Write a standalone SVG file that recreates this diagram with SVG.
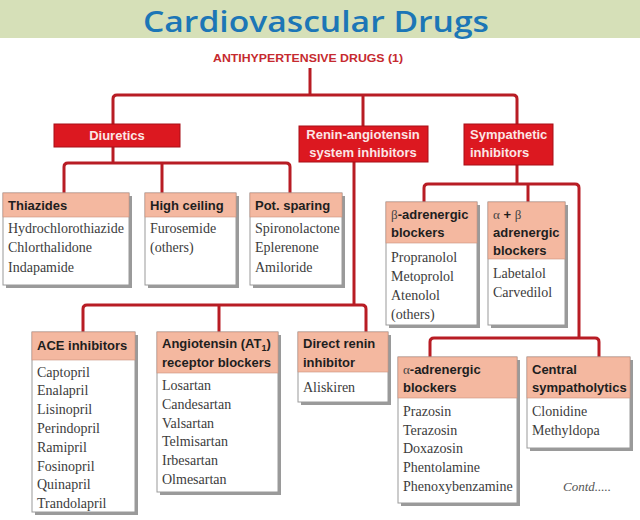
<svg xmlns="http://www.w3.org/2000/svg" width="640" height="520" viewBox="0 0 640 520">
<defs>
<style>
.band{fill:#d6e0b8}
.title{font-family:"Open Sans","Liberation Sans",Arial,sans-serif;font-weight:600;font-size:29px;fill:#1c76b6}
.main{font-family:"Liberation Sans",Arial,sans-serif;font-weight:bold;font-size:11.5px;fill:#c62a2f}
.red{fill:#dc1820;stroke:#a80f16;stroke-width:1}
.redt{font-family:"Liberation Sans",Arial,sans-serif;font-weight:bold;font-size:13px;fill:#fbe6e6}
.sh{fill:#9a9a9a}
.body{fill:#ffffff;stroke:#9a9a9a;stroke-width:1}
.hd{fill:#f4b8a0;stroke:#c9907c;stroke-width:0.6}
.ht{font-family:"Liberation Sans",Arial,sans-serif;font-weight:bold;font-size:13px;fill:#1e1e1e}
.bt{font-family:"Liberation Serif","Times New Roman",serif;font-size:14px;fill:#3c3c3c}
.gk{font-family:"Liberation Serif","Times New Roman",serif;font-weight:normal;fill:#444}
.conn{fill:none;stroke:#b81c24;stroke-width:3;stroke-linejoin:round;stroke-linecap:butt}
.contd{font-family:"Liberation Serif","Times New Roman",serif;font-style:italic;font-size:13px;fill:#555}
</style>
</defs>
<rect class="band" x="0" y="0" width="640" height="38"/>
<text class="title" x="316" y="32" text-anchor="middle" textLength="346" lengthAdjust="spacingAndGlyphs">Cardiovascular Drugs</text>
<text class="main" x="308" y="62" text-anchor="middle" textLength="190" lengthAdjust="spacingAndGlyphs">ANTIHYPERTENSIVE DRUGS (1)</text>

<g id="connectors">
<path class="conn" d="M310 68 V95"/>
<path class="conn" d="M113 124 V99 Q113 95 117 95 H513 Q517 95 517 99 V124"/>
<path class="conn" d="M363 95 V127"/>
<path class="conn" d="M113 147 V163"/>
<path class="conn" d="M64 193 V167 Q64 163 68 163 H286 Q290 163 290 167 V193"/>
<path class="conn" d="M162 163 V193"/>
<path class="conn" d="M354 162 V305"/>
<path class="conn" d="M83 332 V309 Q83 305 87 305 H362 Q366 305 366 309 V332"/>
<path class="conn" d="M219 305 V332"/>
<path class="conn" d="M517 165 V184"/>
<path class="conn" d="M424 202 V188 Q424 184 428 184 H575 Q579 184 579 188 V338"/>
<path class="conn" d="M528 184 V202"/>
<path class="conn" d="M430 357 V342 Q430 338 434 338 H595 Q599 338 599 342 V357"/>
</g>

<g id="diuretics">
<rect class="red" x="54" y="124" width="126" height="23"/>
<text class="redt" x="117" y="140" text-anchor="middle">Diuretics</text>
</g>
<g id="renin">
<rect class="red" x="299" y="126" width="129" height="36"/>
<text class="redt" x="363" y="139" text-anchor="middle">Renin-angiotensin</text>
<text class="redt" x="363" y="157" text-anchor="middle">system inhibitors</text>
</g>
<g id="sympathetic">
<rect class="red" x="464" y="124" width="89" height="41"/>
<text class="redt" x="470" y="139">Sympathetic</text>
<text class="redt" x="470" y="157">inhibitors</text>
</g>

<g id="thiazides">
<rect class="sh" x="6" y="196" width="126" height="92"/>
<rect class="body" x="3" y="193" width="126" height="92"/>
<rect class="hd" x="3" y="193" width="126" height="24"/>
<text class="ht" x="8" y="210">Thiazides</text>
<text class="bt" x="8" y="233">Hydrochlorothiazide</text>
<text class="bt" x="8" y="252">Chlorthalidone</text>
<text class="bt" x="8" y="272">Indapamide</text>
</g>
<g id="highceiling">
<rect class="sh" x="148" y="196" width="91" height="92"/>
<rect class="body" x="145" y="193" width="91" height="92"/>
<rect class="hd" x="145" y="193" width="91" height="24"/>
<text class="ht" x="150" y="210">High ceiling</text>
<text class="bt" x="150" y="233">Furosemide</text>
<text class="bt" x="150" y="252">(others)</text>
</g>
<g id="potsparing">
<rect class="sh" x="253" y="196" width="92" height="92"/>
<rect class="body" x="250" y="193" width="92" height="92"/>
<rect class="hd" x="250" y="193" width="92" height="24"/>
<text class="ht" x="255" y="210">Pot. sparing</text>
<text class="bt" x="255" y="233">Spironolactone</text>
<text class="bt" x="255" y="252">Eplerenone</text>
<text class="bt" x="255" y="272">Amiloride</text>
</g>

<g id="beta">
<rect class="sh" x="389" y="205" width="91" height="123"/>
<rect class="body" x="386" y="202" width="91" height="123"/>
<rect class="hd" x="386" y="202" width="91" height="41"/>
<text class="ht" x="391" y="219"><tspan class="gk">β</tspan>-adrenergic</text>
<text class="ht" x="391" y="237">blockers</text>
<text class="bt" x="391" y="262">Propranolol</text>
<text class="bt" x="391" y="281">Metoprolol</text>
<text class="bt" x="391" y="300">Atenolol</text>
<text class="bt" x="391" y="319">(others)</text>
</g>
<g id="alphabeta">
<rect class="sh" x="491" y="205" width="77" height="123"/>
<rect class="body" x="488" y="202" width="77" height="123"/>
<rect class="hd" x="488" y="202" width="77" height="57"/>
<text class="ht" x="493" y="219"><tspan class="gk">α</tspan> + <tspan class="gk">β</tspan></text>
<text class="ht" x="493" y="237">adrenergic</text>
<text class="ht" x="493" y="255">blockers</text>
<text class="bt" x="493" y="278">Labetalol</text>
<text class="bt" x="493" y="297">Carvedilol</text>
</g>

<g id="ace">
<rect class="sh" x="35" y="335" width="103" height="180"/>
<rect class="body" x="32" y="332" width="103" height="180"/>
<rect class="hd" x="32" y="332" width="103" height="28"/>
<text class="ht" x="37" y="350">ACE inhibitors</text>
<text class="bt" x="37" y="377">Captopril</text>
<text class="bt" x="37" y="395">Enalapril</text>
<text class="bt" x="37" y="414">Lisinopril</text>
<text class="bt" x="37" y="433">Perindopril</text>
<text class="bt" x="37" y="452">Ramipril</text>
<text class="bt" x="37" y="471">Fosinopril</text>
<text class="bt" x="37" y="489">Quinapril</text>
<text class="bt" x="37" y="508">Trandolapril</text>
</g>
<g id="arb">
<rect class="sh" x="160" y="335" width="121" height="160"/>
<rect class="body" x="157" y="332" width="121" height="160"/>
<rect class="hd" x="157" y="332" width="121" height="41"/>
<text class="ht" x="162" y="348">Angiotensin (AT<tspan font-size="9" dy="3">1</tspan><tspan dy="-3">)</tspan></text>
<text class="ht" x="162" y="367">receptor blockers</text>
<text class="bt" x="162" y="390">Losartan</text>
<text class="bt" x="162" y="409">Candesartan</text>
<text class="bt" x="162" y="428">Valsartan</text>
<text class="bt" x="162" y="446">Telmisartan</text>
<text class="bt" x="162" y="465">Irbesartan</text>
<text class="bt" x="162" y="484">Olmesartan</text>
</g>
<g id="directrenin">
<rect class="sh" x="301" y="335" width="90" height="70"/>
<rect class="body" x="298" y="332" width="90" height="70"/>
<rect class="hd" x="298" y="332" width="90" height="40"/>
<text class="ht" x="303" y="348">Direct renin</text>
<text class="ht" x="303" y="367">inhibitor</text>
<text class="bt" x="303" y="392">Aliskiren</text>
</g>

<g id="alpha">
<rect class="sh" x="401" y="360" width="119" height="146"/>
<rect class="body" x="398" y="357" width="119" height="146"/>
<rect class="hd" x="398" y="357" width="119" height="41"/>
<text class="ht" x="403" y="374"><tspan class="gk">α</tspan>-adrenergic</text>
<text class="ht" x="403" y="392">blockers</text>
<text class="bt" x="403" y="416">Prazosin</text>
<text class="bt" x="403" y="435">Terazosin</text>
<text class="bt" x="403" y="453">Doxazosin</text>
<text class="bt" x="403" y="472">Phentolamine</text>
<text class="bt" x="403" y="491">Phenoxybenzamine</text>
</g>
<g id="central">
<rect class="sh" x="530" y="360" width="103" height="91"/>
<rect class="body" x="527" y="357" width="103" height="91"/>
<rect class="hd" x="527" y="357" width="103" height="41"/>
<text class="ht" x="532" y="374">Central</text>
<text class="ht" x="532" y="392">sympatholytics</text>
<text class="bt" x="532" y="416">Clonidine</text>
<text class="bt" x="532" y="435">Methyldopa</text>
</g>
<text class="contd" x="563" y="491">Contd.....</text>
</svg>
